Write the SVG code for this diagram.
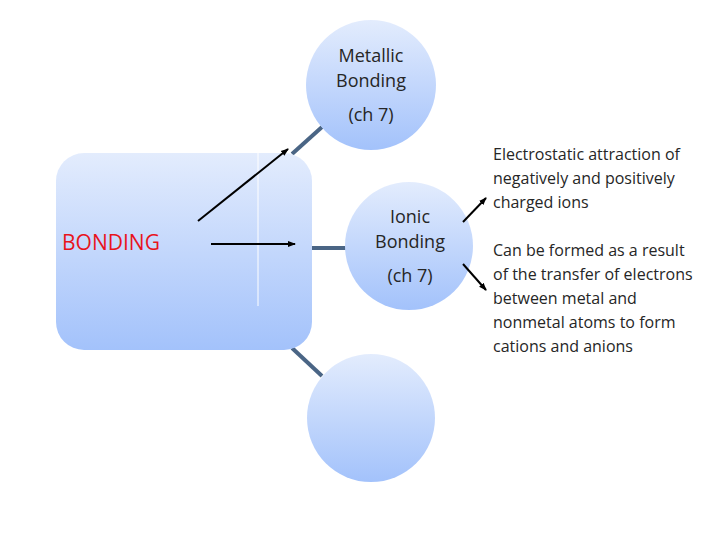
<svg xmlns="http://www.w3.org/2000/svg" width="720" height="540" viewBox="0 0 720 540">
<defs>
<linearGradient id="g" x1="0" y1="0" x2="0" y2="1"><stop offset="0" stop-color="#e3ecfd"/><stop offset="1" stop-color="#a3c2fb"/></linearGradient>
<marker id="a" markerWidth="8" markerHeight="8" refX="7" refY="4" orient="auto" markerUnits="userSpaceOnUse"><path d="M0,1 L8,4 L0,7 Z" fill="#000"/></marker>
<style>
.c{stroke:#4a6585;stroke-width:4}
.k{stroke:#000;stroke-width:2;marker-end:url(#a)}
text{font-family:"Open Sans","Liberation Sans",sans-serif;font-size:16px;fill:#262626}
.m{text-anchor:middle;font-size:18px}
</style>
</defs>
<rect width="720" height="540" fill="#fff"/>
<g id="connectors">
<line class="c" x1="292" y1="154" x2="322" y2="127"/>
<line class="c" x1="312" y1="248" x2="346" y2="248"/>
<line class="c" x1="292" y1="348" x2="322" y2="376"/>
</g>
<g id="bonding">
<rect x="56" y="153" width="256" height="197" rx="28" fill="url(#g)"/>
<line x1="258" y1="153" x2="258" y2="306" stroke="#fff" stroke-width="1"/>
<text x="62" y="250" style="fill:#e8141c;font-size:21px">BONDING</text>
</g>
<g id="metallic">
<circle cx="371" cy="85" r="65" fill="url(#g)"/>
<text class="m" x="371" y="62">Metallic</text><text class="m" x="371" y="87">Bonding</text><text class="m" x="371" y="121">(ch 7)</text>
</g>
<g id="ionic">
<circle cx="409" cy="246" r="64" fill="url(#g)"/>
<text class="m" x="410" y="223">Ionic</text><text class="m" x="410" y="248">Bonding</text><text class="m" x="410" y="282">(ch 7)</text>
</g>
<g id="empty"><circle cx="371" cy="418" r="64" fill="url(#g)"/></g>
<g id="arrows">
<line class="k" x1="198" y1="221" x2="288" y2="149"/>
<line class="k" x1="211" y1="244" x2="295" y2="244"/>
<line class="k" x1="463" y1="222" x2="486" y2="198"/>
<line class="k" x1="463" y1="264" x2="486" y2="290"/>
</g>
<g id="desc">
<text x="493" y="160">Electrostatic attraction of</text>
<text x="493" y="184">negatively and positively</text>
<text x="493" y="208">charged ions</text>
<text x="493" y="256">Can be formed as a result</text>
<text x="493" y="280">of the transfer of electrons</text>
<text x="493" y="304">between metal and</text>
<text x="493" y="328">nonmetal atoms to form</text>
<text x="493" y="352">cations and anions</text>
</g>
</svg>
